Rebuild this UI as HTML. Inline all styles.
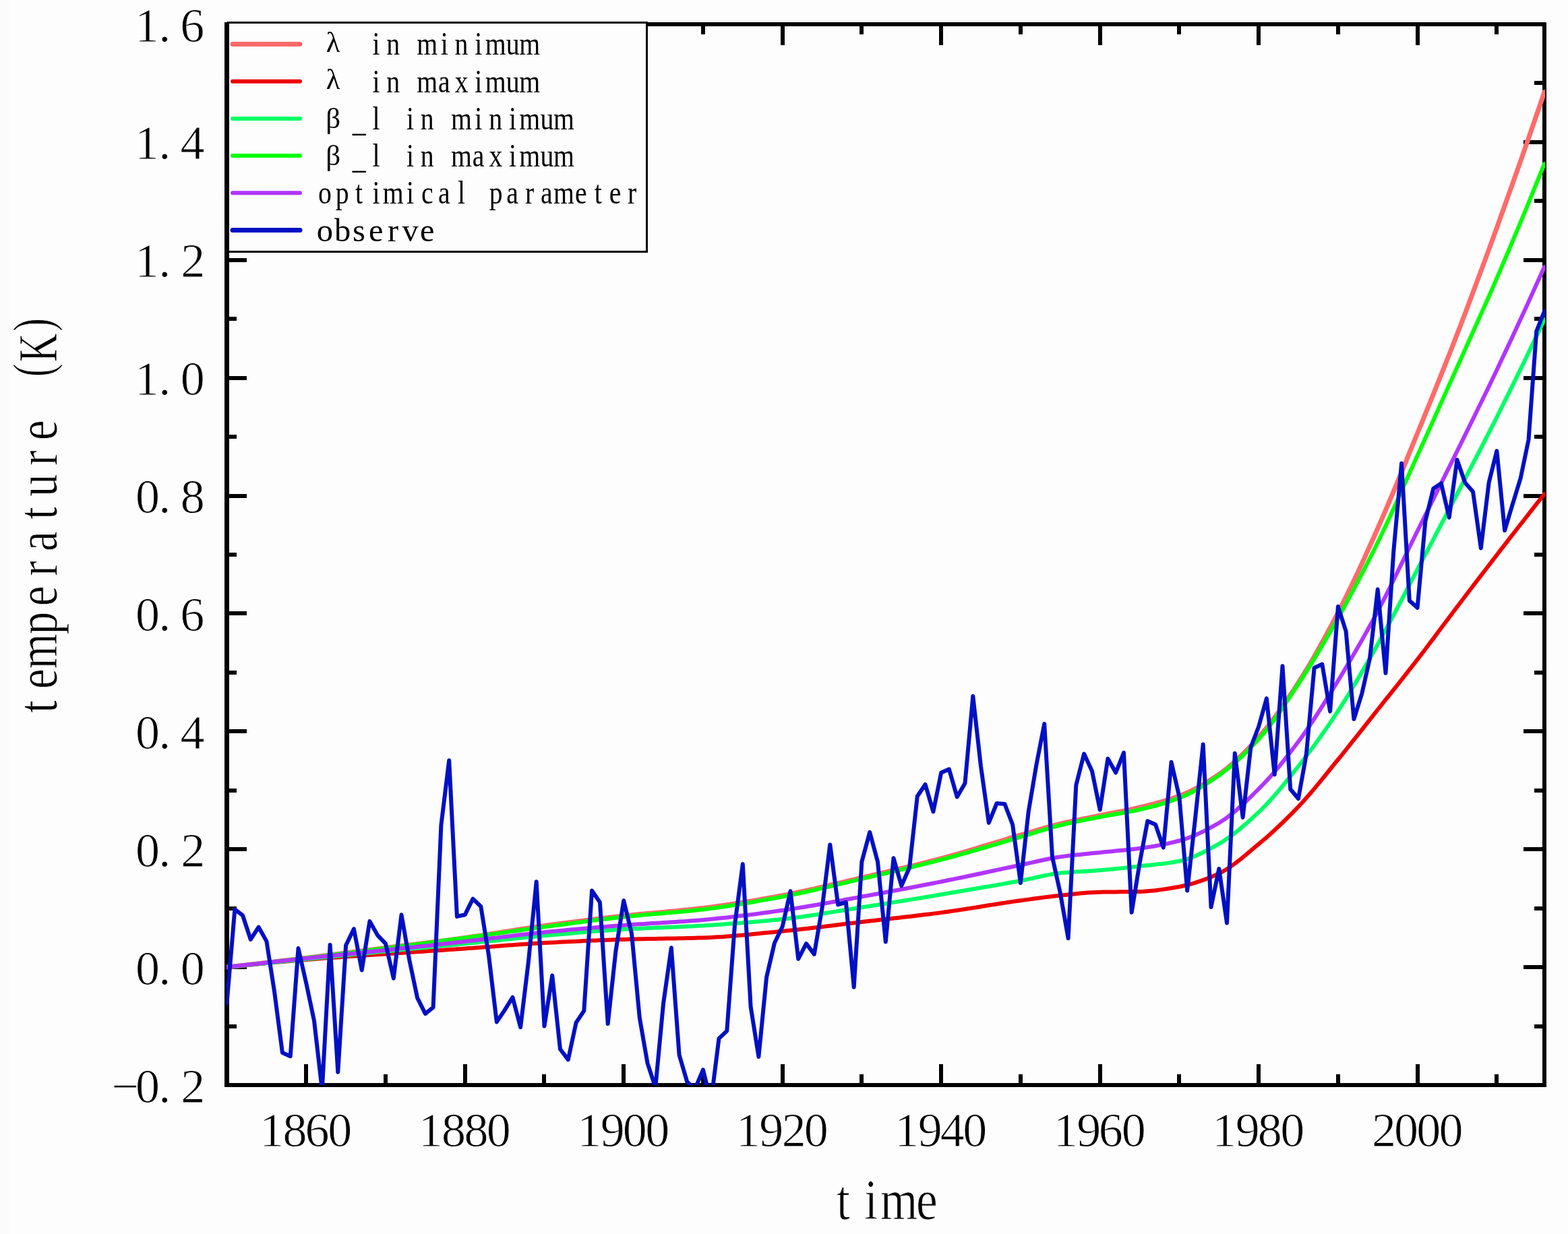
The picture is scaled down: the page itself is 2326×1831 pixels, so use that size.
<!DOCTYPE html>
<html><head><meta charset="utf-8"><title>temperature chart</title>
<style>html,body{margin:0;padding:0;background:#fdfdfd;}body{width:2326px;height:1831px;position:relative;overflow:hidden;}</style>
</head><body>
<svg width="2326" height="1831" viewBox="0 0 2326 1831" style="position:absolute;left:0;top:0">
<defs><clipPath id="pc"><rect x="336" y="36" width="1956" height="1574"/></clipPath></defs>
<rect x="0" y="0" width="2326" height="1831" fill="#fdfdfd"/>
<rect x="0" y="0" width="14" height="1831" fill="#fbfbfb"/>
<g fill="#000"><rect x="333" y="1607" width="1961" height="6"/>
<rect x="333" y="33" width="7" height="1580"/>
<rect x="2288" y="33" width="6" height="1580"/>
<rect x="333" y="33" width="1961" height="6"/>
<rect x="451" y="1579" width="6" height="28"/>
<rect x="451" y="39" width="6" height="28"/>
<rect x="569" y="1594" width="6" height="13"/>
<rect x="569" y="39" width="6" height="12"/>
<rect x="687" y="1579" width="6" height="28"/>
<rect x="687" y="39" width="6" height="28"/>
<rect x="804" y="1594" width="6" height="13"/>
<rect x="804" y="39" width="6" height="12"/>
<rect x="922" y="1579" width="6" height="28"/>
<rect x="922" y="39" width="6" height="28"/>
<rect x="1040" y="1594" width="6" height="13"/>
<rect x="1040" y="39" width="6" height="12"/>
<rect x="1158" y="1579" width="6" height="28"/>
<rect x="1158" y="39" width="6" height="28"/>
<rect x="1275" y="1594" width="6" height="13"/>
<rect x="1275" y="39" width="6" height="12"/>
<rect x="1393" y="1579" width="6" height="28"/>
<rect x="1393" y="39" width="6" height="28"/>
<rect x="1511" y="1594" width="6" height="13"/>
<rect x="1511" y="39" width="6" height="12"/>
<rect x="1629" y="1579" width="6" height="28"/>
<rect x="1629" y="39" width="6" height="28"/>
<rect x="1746" y="1594" width="6" height="13"/>
<rect x="1746" y="39" width="6" height="12"/>
<rect x="1864" y="1579" width="6" height="28"/>
<rect x="1864" y="39" width="6" height="28"/>
<rect x="1982" y="1594" width="6" height="13"/>
<rect x="1982" y="39" width="6" height="12"/>
<rect x="2100" y="1579" width="6" height="28"/>
<rect x="2100" y="39" width="6" height="28"/>
<rect x="2217" y="1594" width="6" height="13"/>
<rect x="2217" y="39" width="6" height="12"/>
<rect x="340" y="1520" width="11" height="6"/>
<rect x="2276" y="1520" width="12" height="6"/>
<rect x="340" y="1432" width="26" height="6"/>
<rect x="2260" y="1432" width="28" height="6"/>
<rect x="340" y="1345" width="11" height="6"/>
<rect x="2276" y="1345" width="12" height="6"/>
<rect x="340" y="1257" width="26" height="6"/>
<rect x="2260" y="1257" width="28" height="6"/>
<rect x="340" y="1170" width="11" height="6"/>
<rect x="2276" y="1170" width="12" height="6"/>
<rect x="340" y="1082" width="26" height="6"/>
<rect x="2260" y="1082" width="28" height="6"/>
<rect x="340" y="995" width="11" height="6"/>
<rect x="2276" y="995" width="12" height="6"/>
<rect x="340" y="907" width="26" height="6"/>
<rect x="2260" y="907" width="28" height="6"/>
<rect x="340" y="820" width="11" height="6"/>
<rect x="2276" y="820" width="12" height="6"/>
<rect x="340" y="733" width="26" height="6"/>
<rect x="2260" y="733" width="28" height="6"/>
<rect x="340" y="645" width="11" height="6"/>
<rect x="2276" y="645" width="12" height="6"/>
<rect x="340" y="558" width="26" height="6"/>
<rect x="2260" y="558" width="28" height="6"/>
<rect x="340" y="470" width="11" height="6"/>
<rect x="2276" y="470" width="12" height="6"/>
<rect x="340" y="383" width="26" height="6"/>
<rect x="2260" y="383" width="28" height="6"/>
<rect x="340" y="295" width="11" height="6"/>
<rect x="2276" y="295" width="12" height="6"/>
<rect x="340" y="208" width="26" height="6"/>
<rect x="2260" y="208" width="28" height="6"/>
<rect x="340" y="120" width="11" height="6"/>
<rect x="2276" y="120" width="12" height="6"/></g>
<g clip-path="url(#pc)" fill="none" stroke-linejoin="round" stroke-linecap="round">
<polyline stroke="#FF6A6A" stroke-width="7" points="336.5,1435.0 342.4,1434.4 348.3,1433.7 354.2,1433.0 360.0,1432.4 365.9,1431.7 371.8,1431.1 377.7,1430.4 383.6,1429.7 389.5,1429.0 395.4,1428.4 401.3,1427.7 407.1,1427.0 413.0,1426.3 418.9,1425.6 424.8,1424.9 430.7,1424.2 436.6,1423.5 442.5,1422.8 448.4,1422.1 454.2,1421.4 460.1,1420.7 466.0,1420.0 471.9,1419.2 477.8,1418.5 483.7,1417.8 489.6,1417.0 495.5,1416.3 501.3,1415.5 507.2,1414.8 513.1,1414.0 519.0,1413.3 524.9,1412.5 530.8,1411.8 536.7,1411.0 542.5,1410.3 548.4,1409.5 554.3,1408.8 560.2,1408.0 566.1,1407.2 572.0,1406.5 577.9,1405.8 583.8,1405.0 589.6,1404.3 595.5,1403.5 601.4,1402.8 607.3,1402.1 613.2,1401.4 619.1,1400.6 625.0,1399.9 630.9,1399.2 636.7,1398.4 642.6,1397.7 648.5,1396.9 654.4,1396.2 660.3,1395.4 666.2,1394.7 672.1,1393.9 677.9,1393.1 683.8,1392.3 689.7,1391.5 695.6,1390.7 701.5,1389.8 707.4,1389.0 713.3,1388.1 719.2,1387.2 725.0,1386.2 730.9,1385.3 736.8,1384.4 742.7,1383.5 748.6,1382.5 754.5,1381.6 760.4,1380.6 766.3,1379.7 772.1,1378.8 778.0,1377.9 783.9,1377.0 789.8,1376.1 795.7,1375.3 801.6,1374.4 807.5,1373.6 813.4,1372.8 819.2,1372.0 825.1,1371.2 831.0,1370.4 836.9,1369.7 842.8,1368.9 848.7,1368.1 854.6,1367.4 860.4,1366.6 866.3,1365.9 872.2,1365.2 878.1,1364.5 884.0,1363.7 889.9,1363.0 895.8,1362.3 901.7,1361.7 907.5,1361.0 913.4,1360.3 919.3,1359.7 925.2,1359.0 931.1,1358.4 937.0,1357.8 942.9,1357.2 948.8,1356.6 954.6,1356.0 960.5,1355.5 966.4,1355.0 972.3,1354.4 978.2,1353.9 984.1,1353.4 990.0,1352.8 995.8,1352.3 1001.7,1351.8 1007.6,1351.2 1013.5,1350.6 1019.4,1350.0 1025.3,1349.4 1031.2,1348.8 1037.1,1348.1 1042.9,1347.4 1048.8,1346.7 1054.7,1345.9 1060.6,1345.1 1066.5,1344.3 1072.4,1343.5 1078.3,1342.6 1084.2,1341.8 1090.0,1340.9 1095.9,1339.9 1101.8,1339.0 1107.7,1338.0 1113.6,1337.1 1119.5,1336.1 1125.4,1335.1 1131.3,1334.0 1137.1,1333.0 1143.0,1331.9 1148.9,1330.9 1154.8,1329.8 1160.7,1328.7 1166.6,1327.6 1172.5,1326.4 1178.3,1325.2 1184.2,1324.0 1190.1,1322.8 1196.0,1321.5 1201.9,1320.2 1207.8,1318.9 1213.7,1317.5 1219.6,1316.2 1225.4,1314.8 1231.3,1313.4 1237.2,1312.0 1243.1,1310.7 1249.0,1309.3 1254.9,1307.9 1260.8,1306.5 1266.7,1305.1 1272.5,1303.7 1278.4,1302.3 1284.3,1300.9 1290.2,1299.6 1296.1,1298.2 1302.0,1296.8 1307.9,1295.5 1313.8,1294.1 1319.6,1292.7 1325.5,1291.3 1331.4,1289.9 1337.3,1288.5 1343.2,1287.1 1349.1,1285.7 1355.0,1284.3 1360.8,1282.8 1366.7,1281.4 1372.6,1279.9 1378.5,1278.4 1384.4,1276.9 1390.3,1275.4 1396.2,1273.8 1402.1,1272.2 1407.9,1270.6 1413.8,1268.9 1419.7,1267.3 1425.6,1265.5 1431.5,1263.8 1437.4,1262.1 1443.3,1260.3 1449.2,1258.5 1455.0,1256.7 1460.9,1254.9 1466.8,1253.1 1472.7,1251.3 1478.6,1249.5 1484.5,1247.8 1490.4,1246.0 1496.2,1244.2 1502.1,1242.4 1508.0,1240.7 1513.9,1239.0 1519.8,1237.3 1525.7,1235.5 1531.6,1233.8 1537.5,1232.0 1543.3,1230.3 1549.2,1228.6 1555.1,1226.9 1561.0,1225.3 1566.9,1223.8 1572.8,1222.3 1578.7,1220.9 1584.6,1219.6 1590.4,1218.3 1596.3,1217.1 1602.2,1215.9 1608.1,1214.7 1614.0,1213.6 1619.9,1212.4 1625.8,1211.2 1631.7,1210.0 1637.5,1208.8 1643.4,1207.6 1649.3,1206.5 1655.2,1205.4 1661.1,1204.2 1667.0,1203.1 1672.9,1201.9 1678.7,1200.7 1684.6,1199.4 1690.5,1198.0 1696.4,1196.6 1702.3,1195.1 1708.2,1193.7 1714.1,1192.1 1720.0,1190.5 1725.8,1188.8 1731.7,1187.0 1737.6,1185.2 1743.5,1183.1 1749.4,1181.0 1755.3,1178.7 1761.2,1176.1 1767.1,1173.4 1772.9,1170.4 1778.8,1167.3 1784.7,1164.0 1790.6,1160.5 1796.5,1156.8 1802.4,1153.0 1808.3,1149.0 1814.1,1144.8 1820.0,1140.2 1825.9,1135.3 1831.8,1130.1 1837.7,1124.6 1843.6,1118.9 1849.5,1113.0 1855.4,1106.8 1861.2,1100.5 1867.1,1094.0 1873.0,1087.2 1878.9,1080.1 1884.8,1072.6 1890.7,1064.8 1896.6,1056.7 1902.5,1048.3 1908.3,1039.8 1914.2,1031.0 1920.1,1022.1 1926.0,1013.0 1931.9,1003.7 1937.8,994.2 1943.7,984.3 1949.6,974.2 1955.4,963.8 1961.3,953.2 1967.2,942.4 1973.1,931.4 1979.0,920.3 1984.9,909.0 1990.8,897.5 1996.6,885.7 2002.5,873.7 2008.4,861.4 2014.3,848.9 2020.2,836.2 2026.1,823.3 2032.0,810.3 2037.9,797.2 2043.7,784.0 2049.6,770.6 2055.5,757.0 2061.4,743.1 2067.3,729.1 2073.2,714.9 2079.1,700.6 2085.0,686.3 2090.8,671.8 2096.7,657.4 2102.6,643.0 2108.5,628.6 2114.4,614.2 2120.3,599.7 2126.2,585.1 2132.0,570.5 2137.9,555.9 2143.8,541.1 2149.7,526.2 2155.6,511.2 2161.5,496.0 2167.4,480.7 2173.3,465.3 2179.1,449.7 2185.0,434.1 2190.9,418.3 2196.8,402.4 2202.7,386.4 2208.6,370.4 2214.5,354.2 2220.4,338.0 2226.2,321.7 2232.1,305.3 2238.0,288.8 2243.9,272.2 2249.8,255.6 2255.7,238.9 2261.6,222.0 2267.5,205.1 2273.3,188.1 2279.2,171.0 2285.1,153.8 2291.0,136.5"/>
<polyline stroke="#EE0000" stroke-width="6" points="336.5,1435.0 342.4,1434.4 348.3,1433.8 354.2,1433.2 360.0,1432.6 365.9,1432.0 371.8,1431.4 377.7,1430.8 383.6,1430.2 389.5,1429.7 395.4,1429.1 401.3,1428.5 407.1,1428.0 413.0,1427.5 418.9,1426.9 424.8,1426.4 430.7,1425.9 436.6,1425.4 442.5,1424.9 448.4,1424.4 454.2,1423.9 460.1,1423.4 466.0,1423.0 471.9,1422.5 477.8,1422.1 483.7,1421.6 489.6,1421.2 495.5,1420.8 501.3,1420.4 507.2,1419.9 513.1,1419.5 519.0,1419.1 524.9,1418.7 530.8,1418.3 536.7,1417.9 542.5,1417.5 548.4,1417.1 554.3,1416.7 560.2,1416.3 566.1,1415.9 572.0,1415.5 577.9,1415.1 583.8,1414.7 589.6,1414.3 595.5,1413.9 601.4,1413.5 607.3,1413.1 613.2,1412.7 619.1,1412.3 625.0,1411.9 630.9,1411.5 636.7,1411.1 642.6,1410.7 648.5,1410.3 654.4,1409.9 660.3,1409.5 666.2,1409.1 672.1,1408.7 677.9,1408.3 683.8,1407.9 689.7,1407.5 695.6,1407.1 701.5,1406.7 707.4,1406.2 713.3,1405.8 719.2,1405.3 725.0,1404.9 730.9,1404.4 736.8,1404.0 742.7,1403.5 748.6,1403.1 754.5,1402.6 760.4,1402.2 766.3,1401.8 772.1,1401.3 778.0,1400.9 783.9,1400.5 789.8,1400.1 795.7,1399.8 801.6,1399.4 807.5,1399.1 813.4,1398.8 819.2,1398.5 825.1,1398.2 831.0,1397.8 836.9,1397.5 842.8,1397.2 848.7,1397.0 854.6,1396.7 860.4,1396.4 866.3,1396.1 872.2,1395.9 878.1,1395.6 884.0,1395.4 889.9,1395.1 895.8,1394.9 901.7,1394.7 907.5,1394.5 913.4,1394.3 919.3,1394.1 925.2,1393.9 931.1,1393.7 937.0,1393.6 942.9,1393.5 948.8,1393.3 954.6,1393.2 960.5,1393.1 966.4,1393.0 972.3,1392.9 978.2,1392.8 984.1,1392.7 990.0,1392.6 995.8,1392.5 1001.7,1392.4 1007.6,1392.3 1013.5,1392.2 1019.4,1392.1 1025.3,1391.9 1031.2,1391.8 1037.1,1391.6 1042.9,1391.4 1048.8,1391.2 1054.7,1390.9 1060.6,1390.6 1066.5,1390.2 1072.4,1389.9 1078.3,1389.4 1084.2,1389.0 1090.0,1388.5 1095.9,1388.0 1101.8,1387.5 1107.7,1386.9 1113.6,1386.4 1119.5,1385.8 1125.4,1385.2 1131.3,1384.6 1137.1,1384.0 1143.0,1383.4 1148.9,1382.9 1154.8,1382.3 1160.7,1381.7 1166.6,1381.1 1172.5,1380.5 1178.3,1379.9 1184.2,1379.3 1190.1,1378.6 1196.0,1377.9 1201.9,1377.3 1207.8,1376.6 1213.7,1375.9 1219.6,1375.2 1225.4,1374.4 1231.3,1373.7 1237.2,1373.0 1243.1,1372.3 1249.0,1371.5 1254.9,1370.8 1260.8,1370.1 1266.7,1369.4 1272.5,1368.7 1278.4,1368.0 1284.3,1367.3 1290.2,1366.6 1296.1,1366.0 1302.0,1365.3 1307.9,1364.6 1313.8,1364.0 1319.6,1363.3 1325.5,1362.6 1331.4,1362.0 1337.3,1361.3 1343.2,1360.6 1349.1,1359.9 1355.0,1359.2 1360.8,1358.5 1366.7,1357.8 1372.6,1357.1 1378.5,1356.4 1384.4,1355.6 1390.3,1354.9 1396.2,1354.1 1402.1,1353.3 1407.9,1352.5 1413.8,1351.6 1419.7,1350.8 1425.6,1349.9 1431.5,1349.0 1437.4,1348.0 1443.3,1347.1 1449.2,1346.2 1455.0,1345.2 1460.9,1344.3 1466.8,1343.3 1472.7,1342.4 1478.6,1341.5 1484.5,1340.5 1490.4,1339.6 1496.2,1338.7 1502.1,1337.9 1508.0,1337.0 1513.9,1336.2 1519.8,1335.4 1525.7,1334.6 1531.6,1333.8 1537.5,1333.0 1543.3,1332.2 1549.2,1331.4 1555.1,1330.7 1561.0,1330.0 1566.9,1329.3 1572.8,1328.7 1578.7,1328.1 1584.6,1327.5 1590.4,1326.8 1596.3,1326.2 1602.2,1325.6 1608.1,1325.1 1614.0,1324.6 1619.9,1324.2 1625.8,1323.9 1631.7,1323.7 1637.5,1323.6 1643.4,1323.5 1649.3,1323.4 1655.2,1323.4 1661.1,1323.3 1667.0,1323.3 1672.9,1323.2 1678.7,1323.1 1684.6,1323.0 1690.5,1322.9 1696.4,1322.7 1702.3,1322.3 1708.2,1321.8 1714.1,1321.2 1720.0,1320.4 1725.8,1319.6 1731.7,1318.7 1737.6,1317.8 1743.5,1316.7 1749.4,1315.7 1755.3,1314.5 1761.2,1313.2 1767.1,1311.6 1772.9,1309.9 1778.8,1307.9 1784.7,1305.8 1790.6,1303.6 1796.5,1301.2 1802.4,1298.7 1808.3,1296.0 1814.1,1293.0 1820.0,1289.6 1825.9,1285.7 1831.8,1281.4 1837.7,1276.9 1843.6,1272.2 1849.5,1267.3 1855.4,1262.3 1861.2,1257.3 1867.1,1252.4 1873.0,1247.5 1878.9,1242.4 1884.8,1237.2 1890.7,1231.8 1896.6,1226.3 1902.5,1220.7 1908.3,1215.0 1914.2,1209.1 1920.1,1203.1 1926.0,1197.0 1931.9,1190.7 1937.8,1184.1 1943.7,1177.3 1949.6,1170.4 1955.4,1163.3 1961.3,1156.1 1967.2,1148.8 1973.1,1141.5 1979.0,1134.2 1984.9,1127.0 1990.8,1119.8 1996.6,1112.5 2002.5,1105.1 2008.4,1097.7 2014.3,1090.3 2020.2,1082.8 2026.1,1075.4 2032.0,1067.9 2037.9,1060.4 2043.7,1053.0 2049.6,1045.6 2055.5,1038.2 2061.4,1030.8 2067.3,1023.4 2073.2,1016.1 2079.1,1008.6 2085.0,1001.2 2090.8,993.7 2096.7,986.2 2102.6,978.6 2108.5,970.9 2114.4,963.2 2120.3,955.4 2126.2,947.6 2132.0,939.7 2137.9,931.8 2143.8,924.0 2149.7,916.1 2155.6,908.3 2161.5,900.5 2167.4,892.7 2173.3,885.0 2179.1,877.3 2185.0,869.5 2190.9,861.8 2196.8,854.1 2202.7,846.5 2208.6,838.8 2214.5,831.1 2220.4,823.5 2226.2,815.9 2232.1,808.3 2238.0,800.7 2243.9,793.1 2249.8,785.5 2255.7,778.0 2261.6,770.5 2267.5,762.9 2273.3,755.4 2279.2,747.9 2285.1,740.5 2291.0,733.0"/>
<polyline stroke="#00FF66" stroke-width="6" points="336.5,1435.0 342.4,1434.4 348.3,1433.8 354.2,1433.2 360.0,1432.6 365.9,1432.0 371.8,1431.4 377.7,1430.8 383.6,1430.2 389.5,1429.6 395.4,1429.0 401.3,1428.4 407.1,1427.8 413.0,1427.2 418.9,1426.6 424.8,1426.0 430.7,1425.5 436.6,1424.9 442.5,1424.3 448.4,1423.7 454.2,1423.1 460.1,1422.5 466.0,1421.9 471.9,1421.3 477.8,1420.8 483.7,1420.2 489.6,1419.6 495.5,1419.0 501.3,1418.4 507.2,1417.8 513.1,1417.3 519.0,1416.7 524.9,1416.1 530.8,1415.5 536.7,1414.9 542.5,1414.4 548.4,1413.8 554.3,1413.2 560.2,1412.6 566.1,1412.1 572.0,1411.5 577.9,1410.9 583.8,1410.4 589.6,1409.8 595.5,1409.2 601.4,1408.7 607.3,1408.1 613.2,1407.5 619.1,1407.0 625.0,1406.4 630.9,1405.9 636.7,1405.3 642.6,1404.7 648.5,1404.2 654.4,1403.6 660.3,1403.1 666.2,1402.5 672.1,1401.9 677.9,1401.4 683.8,1400.8 689.7,1400.2 695.6,1399.6 701.5,1399.0 707.4,1398.4 713.3,1397.8 719.2,1397.2 725.0,1396.6 730.9,1396.0 736.8,1395.4 742.7,1394.7 748.6,1394.1 754.5,1393.5 760.4,1392.9 766.3,1392.3 772.1,1391.7 778.0,1391.1 783.9,1390.5 789.8,1389.9 795.7,1389.4 801.6,1388.8 807.5,1388.3 813.4,1387.8 819.2,1387.2 825.1,1386.7 831.0,1386.2 836.9,1385.7 842.8,1385.2 848.7,1384.7 854.6,1384.1 860.4,1383.6 866.3,1383.2 872.2,1382.7 878.1,1382.2 884.0,1381.7 889.9,1381.3 895.8,1380.9 901.7,1380.4 907.5,1380.0 913.4,1379.6 919.3,1379.3 925.2,1378.9 931.1,1378.6 937.0,1378.2 942.9,1377.9 948.8,1377.7 954.6,1377.4 960.5,1377.1 966.4,1376.9 972.3,1376.6 978.2,1376.4 984.1,1376.2 990.0,1375.9 995.8,1375.7 1001.7,1375.4 1007.6,1375.2 1013.5,1374.9 1019.4,1374.6 1025.3,1374.4 1031.2,1374.1 1037.1,1373.7 1042.9,1373.4 1048.8,1373.0 1054.7,1372.7 1060.6,1372.3 1066.5,1371.9 1072.4,1371.5 1078.3,1371.1 1084.2,1370.6 1090.0,1370.2 1095.9,1369.7 1101.8,1369.3 1107.7,1368.8 1113.6,1368.3 1119.5,1367.8 1125.4,1367.3 1131.3,1366.7 1137.1,1366.2 1143.0,1365.6 1148.9,1365.0 1154.8,1364.4 1160.7,1363.8 1166.6,1363.2 1172.5,1362.5 1178.3,1361.7 1184.2,1361.0 1190.1,1360.2 1196.0,1359.3 1201.9,1358.5 1207.8,1357.6 1213.7,1356.7 1219.6,1355.8 1225.4,1354.8 1231.3,1353.9 1237.2,1352.9 1243.1,1352.0 1249.0,1351.0 1254.9,1350.1 1260.8,1349.1 1266.7,1348.2 1272.5,1347.2 1278.4,1346.3 1284.3,1345.4 1290.2,1344.5 1296.1,1343.5 1302.0,1342.6 1307.9,1341.7 1313.8,1340.8 1319.6,1339.8 1325.5,1338.9 1331.4,1337.9 1337.3,1337.0 1343.2,1336.0 1349.1,1335.1 1355.0,1334.1 1360.8,1333.2 1366.7,1332.2 1372.6,1331.2 1378.5,1330.2 1384.4,1329.3 1390.3,1328.3 1396.2,1327.3 1402.1,1326.3 1407.9,1325.3 1413.8,1324.3 1419.7,1323.3 1425.6,1322.3 1431.5,1321.3 1437.4,1320.3 1443.3,1319.3 1449.2,1318.3 1455.0,1317.3 1460.9,1316.3 1466.8,1315.2 1472.7,1314.2 1478.6,1313.2 1484.5,1312.1 1490.4,1311.1 1496.2,1310.0 1502.1,1309.0 1508.0,1307.9 1513.9,1306.8 1519.8,1305.7 1525.7,1304.4 1531.6,1303.1 1537.5,1301.8 1543.3,1300.5 1549.2,1299.2 1555.1,1298.1 1561.0,1297.0 1566.9,1296.1 1572.8,1295.4 1578.7,1294.8 1584.6,1294.4 1590.4,1293.9 1596.3,1293.6 1602.2,1293.2 1608.1,1292.9 1614.0,1292.5 1619.9,1292.2 1625.8,1291.8 1631.7,1291.3 1637.5,1290.8 1643.4,1290.3 1649.3,1289.7 1655.2,1289.1 1661.1,1288.5 1667.0,1287.9 1672.9,1287.3 1678.7,1286.6 1684.6,1286.0 1690.5,1285.3 1696.4,1284.6 1702.3,1284.0 1708.2,1283.4 1714.1,1282.8 1720.0,1282.1 1725.8,1281.4 1731.7,1280.6 1737.6,1279.8 1743.5,1278.8 1749.4,1277.7 1755.3,1276.3 1761.2,1274.6 1767.1,1272.5 1772.9,1270.2 1778.8,1267.5 1784.7,1264.7 1790.6,1261.7 1796.5,1258.5 1802.4,1255.3 1808.3,1252.0 1814.1,1248.5 1820.0,1244.6 1825.9,1240.5 1831.8,1236.0 1837.7,1231.3 1843.6,1226.4 1849.5,1221.3 1855.4,1216.0 1861.2,1210.6 1867.1,1205.1 1873.0,1199.4 1878.9,1193.3 1884.8,1186.9 1890.7,1180.3 1896.6,1173.4 1902.5,1166.4 1908.3,1159.1 1914.2,1151.8 1920.1,1144.4 1926.0,1137.0 1931.9,1129.5 1937.8,1121.8 1943.7,1114.0 1949.6,1106.0 1955.4,1097.9 1961.3,1089.6 1967.2,1081.2 1973.1,1072.6 1979.0,1063.9 1984.9,1055.0 1990.8,1045.9 1996.6,1036.6 2002.5,1027.0 2008.4,1017.3 2014.3,1007.4 2020.2,997.3 2026.1,987.1 2032.0,976.8 2037.9,966.4 2043.7,956.0 2049.6,945.4 2055.5,934.6 2061.4,923.7 2067.3,912.6 2073.2,901.4 2079.1,890.1 2085.0,878.8 2090.8,867.5 2096.7,856.2 2102.6,845.0 2108.5,833.8 2114.4,822.7 2120.3,811.5 2126.2,800.4 2132.0,789.2 2137.9,778.0 2143.8,766.8 2149.7,755.5 2155.6,744.3 2161.5,733.0 2167.4,721.7 2173.3,710.4 2179.1,699.2 2185.0,687.9 2190.9,676.5 2196.8,665.2 2202.7,653.7 2208.6,642.2 2214.5,630.7 2220.4,619.0 2226.2,607.2 2232.1,595.4 2238.0,583.6 2243.9,571.6 2249.8,559.7 2255.7,547.6 2261.6,535.5 2267.5,523.3 2273.3,511.1 2279.2,498.8 2285.1,486.4 2291.0,474.0"/>
<polyline stroke="#05FF05" stroke-width="6" points="336.5,1435.0 342.4,1434.3 348.3,1433.7 354.2,1433.0 360.0,1432.4 365.9,1431.7 371.8,1431.1 377.7,1430.4 383.6,1429.7 389.5,1429.0 395.4,1428.4 401.3,1427.7 407.1,1427.0 413.0,1426.3 418.9,1425.7 424.8,1425.0 430.7,1424.3 436.6,1423.6 442.5,1422.9 448.4,1422.2 454.2,1421.5 460.1,1420.8 466.0,1420.1 471.9,1419.4 477.8,1418.7 483.7,1418.0 489.6,1417.3 495.5,1416.5 501.3,1415.8 507.2,1415.1 513.1,1414.4 519.0,1413.6 524.9,1412.9 530.8,1412.2 536.7,1411.4 542.5,1410.7 548.4,1410.0 554.3,1409.2 560.2,1408.5 566.1,1407.7 572.0,1407.0 577.9,1406.3 583.8,1405.5 589.6,1404.7 595.5,1404.0 601.4,1403.2 607.3,1402.5 613.2,1401.7 619.1,1400.9 625.0,1400.2 630.9,1399.4 636.7,1398.6 642.6,1397.9 648.5,1397.1 654.4,1396.3 660.3,1395.5 666.2,1394.7 672.1,1394.0 677.9,1393.2 683.8,1392.4 689.7,1391.6 695.6,1390.8 701.5,1390.0 707.4,1389.2 713.3,1388.4 719.2,1387.6 725.0,1386.8 730.9,1385.9 736.8,1385.1 742.7,1384.3 748.6,1383.5 754.5,1382.6 760.4,1381.8 766.3,1381.0 772.1,1380.2 778.0,1379.4 783.9,1378.6 789.8,1377.8 795.7,1377.0 801.6,1376.2 807.5,1375.4 813.4,1374.6 819.2,1373.8 825.1,1373.1 831.0,1372.3 836.9,1371.5 842.8,1370.7 848.7,1369.9 854.6,1369.1 860.4,1368.4 866.3,1367.6 872.2,1366.8 878.1,1366.1 884.0,1365.3 889.9,1364.6 895.8,1363.9 901.7,1363.2 907.5,1362.5 913.4,1361.8 919.3,1361.1 925.2,1360.5 931.1,1359.9 937.0,1359.3 942.9,1358.7 948.8,1358.2 954.6,1357.6 960.5,1357.1 966.4,1356.6 972.3,1356.1 978.2,1355.6 984.1,1355.1 990.0,1354.6 995.8,1354.1 1001.7,1353.6 1007.6,1353.1 1013.5,1352.5 1019.4,1351.9 1025.3,1351.3 1031.2,1350.7 1037.1,1350.1 1042.9,1349.4 1048.8,1348.7 1054.7,1347.9 1060.6,1347.2 1066.5,1346.4 1072.4,1345.5 1078.3,1344.7 1084.2,1343.8 1090.0,1342.9 1095.9,1341.9 1101.8,1341.0 1107.7,1340.0 1113.6,1339.0 1119.5,1338.0 1125.4,1336.9 1131.3,1335.9 1137.1,1334.8 1143.0,1333.8 1148.9,1332.7 1154.8,1331.6 1160.7,1330.5 1166.6,1329.4 1172.5,1328.2 1178.3,1327.0 1184.2,1325.8 1190.1,1324.5 1196.0,1323.3 1201.9,1322.0 1207.8,1320.6 1213.7,1319.3 1219.6,1317.9 1225.4,1316.5 1231.3,1315.2 1237.2,1313.8 1243.1,1312.4 1249.0,1311.0 1254.9,1309.6 1260.8,1308.2 1266.7,1306.8 1272.5,1305.4 1278.4,1304.0 1284.3,1302.6 1290.2,1301.3 1296.1,1299.9 1302.0,1298.5 1307.9,1297.2 1313.8,1295.8 1319.6,1294.4 1325.5,1293.1 1331.4,1291.7 1337.3,1290.3 1343.2,1288.9 1349.1,1287.5 1355.0,1286.0 1360.8,1284.6 1366.7,1283.2 1372.6,1281.7 1378.5,1280.2 1384.4,1278.7 1390.3,1277.2 1396.2,1275.7 1402.1,1274.1 1407.9,1272.6 1413.8,1271.0 1419.7,1269.3 1425.6,1267.7 1431.5,1266.0 1437.4,1264.4 1443.3,1262.7 1449.2,1261.0 1455.0,1259.2 1460.9,1257.5 1466.8,1255.8 1472.7,1254.0 1478.6,1252.3 1484.5,1250.6 1490.4,1248.8 1496.2,1247.1 1502.1,1245.4 1508.0,1243.6 1513.9,1241.9 1519.8,1240.2 1525.7,1238.4 1531.6,1236.5 1537.5,1234.7 1543.3,1232.9 1549.2,1231.1 1555.1,1229.3 1561.0,1227.6 1566.9,1226.0 1572.8,1224.5 1578.7,1223.1 1584.6,1221.7 1590.4,1220.5 1596.3,1219.2 1602.2,1218.0 1608.1,1216.8 1614.0,1215.6 1619.9,1214.5 1625.8,1213.4 1631.7,1212.2 1637.5,1211.1 1643.4,1210.0 1649.3,1209.0 1655.2,1208.0 1661.1,1207.0 1667.0,1206.0 1672.9,1204.9 1678.7,1203.8 1684.6,1202.6 1690.5,1201.3 1696.4,1199.9 1702.3,1198.5 1708.2,1197.0 1714.1,1195.5 1720.0,1193.8 1725.8,1192.1 1731.7,1190.2 1737.6,1188.3 1743.5,1186.2 1749.4,1184.0 1755.3,1181.6 1761.2,1178.9 1767.1,1176.0 1772.9,1172.9 1778.8,1169.6 1784.7,1166.0 1790.6,1162.4 1796.5,1158.5 1802.4,1154.6 1808.3,1150.5 1814.1,1146.2 1820.0,1141.7 1825.9,1136.9 1831.8,1131.8 1837.7,1126.5 1843.6,1121.0 1849.5,1115.3 1855.4,1109.3 1861.2,1103.1 1867.1,1096.7 1873.0,1090.0 1878.9,1082.8 1884.8,1075.1 1890.7,1067.2 1896.6,1058.9 1902.5,1050.4 1908.3,1041.7 1914.2,1032.8 1920.1,1023.9 1926.0,1015.0 1931.9,1006.0 1937.8,996.7 1943.7,987.3 1949.6,977.7 1955.4,967.9 1961.3,958.0 1967.2,947.9 1973.1,937.7 1979.0,927.4 1984.9,917.0 1990.8,906.5 1996.6,895.8 2002.5,885.0 2008.4,874.0 2014.3,862.9 2020.2,851.7 2026.1,840.2 2032.0,828.7 2037.9,816.9 2043.7,805.0 2049.6,792.8 2055.5,780.4 2061.4,767.7 2067.3,754.8 2073.2,741.8 2079.1,728.6 2085.0,715.4 2090.8,702.2 2096.7,689.1 2102.6,676.0 2108.5,663.0 2114.4,649.9 2120.3,636.9 2126.2,623.8 2132.0,610.7 2137.9,597.6 2143.8,584.4 2149.7,571.3 2155.6,558.1 2161.5,545.0 2167.4,531.9 2173.3,518.8 2179.1,505.8 2185.0,492.7 2190.9,479.6 2196.8,466.5 2202.7,453.3 2208.6,440.0 2214.5,426.6 2220.4,413.0 2226.2,399.3 2232.1,385.5 2238.0,371.7 2243.9,357.7 2249.8,343.7 2255.7,329.6 2261.6,315.4 2267.5,301.1 2273.3,286.7 2279.2,272.2 2285.1,257.6 2291.0,243.0"/>
<polyline stroke="#B035FF" stroke-width="6" points="336.5,1435.0 342.4,1434.3 348.3,1433.7 354.2,1433.0 360.0,1432.3 365.9,1431.7 371.8,1431.0 377.7,1430.4 383.6,1429.7 389.5,1429.0 395.4,1428.4 401.3,1427.7 407.1,1427.1 413.0,1426.5 418.9,1425.8 424.8,1425.2 430.7,1424.5 436.6,1423.9 442.5,1423.3 448.4,1422.6 454.2,1422.0 460.1,1421.4 466.0,1420.8 471.9,1420.1 477.8,1419.5 483.7,1418.9 489.6,1418.3 495.5,1417.7 501.3,1417.1 507.2,1416.5 513.1,1415.9 519.0,1415.3 524.9,1414.7 530.8,1414.1 536.7,1413.5 542.5,1412.9 548.4,1412.3 554.3,1411.7 560.2,1411.0 566.1,1410.4 572.0,1409.8 577.9,1409.2 583.8,1408.5 589.6,1407.9 595.5,1407.3 601.4,1406.7 607.3,1406.0 613.2,1405.4 619.1,1404.8 625.0,1404.1 630.9,1403.5 636.7,1402.9 642.6,1402.2 648.5,1401.6 654.4,1400.9 660.3,1400.3 666.2,1399.6 672.1,1399.0 677.9,1398.3 683.8,1397.7 689.7,1397.0 695.6,1396.3 701.5,1395.6 707.4,1394.9 713.3,1394.2 719.2,1393.5 725.0,1392.8 730.9,1392.1 736.8,1391.4 742.7,1390.6 748.6,1389.9 754.5,1389.2 760.4,1388.5 766.3,1387.8 772.1,1387.1 778.0,1386.4 783.9,1385.7 789.8,1385.1 795.7,1384.4 801.6,1383.8 807.5,1383.2 813.4,1382.6 819.2,1382.0 825.1,1381.5 831.0,1380.9 836.9,1380.4 842.8,1379.8 848.7,1379.3 854.6,1378.7 860.4,1378.2 866.3,1377.7 872.2,1377.2 878.1,1376.7 884.0,1376.2 889.9,1375.7 895.8,1375.2 901.7,1374.7 907.5,1374.3 913.4,1373.8 919.3,1373.4 925.2,1372.9 931.1,1372.5 937.0,1372.0 942.9,1371.6 948.8,1371.2 954.6,1370.9 960.5,1370.5 966.4,1370.1 972.3,1369.8 978.2,1369.4 984.1,1369.1 990.0,1368.7 995.8,1368.3 1001.7,1368.0 1007.6,1367.6 1013.5,1367.2 1019.4,1366.8 1025.3,1366.3 1031.2,1365.9 1037.1,1365.4 1042.9,1364.9 1048.8,1364.4 1054.7,1363.8 1060.6,1363.2 1066.5,1362.6 1072.4,1362.0 1078.3,1361.4 1084.2,1360.7 1090.0,1360.0 1095.9,1359.3 1101.8,1358.6 1107.7,1357.9 1113.6,1357.1 1119.5,1356.4 1125.4,1355.6 1131.3,1354.8 1137.1,1354.0 1143.0,1353.2 1148.9,1352.4 1154.8,1351.5 1160.7,1350.7 1166.6,1349.9 1172.5,1349.0 1178.3,1348.1 1184.2,1347.1 1190.1,1346.2 1196.0,1345.2 1201.9,1344.2 1207.8,1343.2 1213.7,1342.2 1219.6,1341.2 1225.4,1340.1 1231.3,1339.1 1237.2,1338.0 1243.1,1336.9 1249.0,1335.9 1254.9,1334.8 1260.8,1333.7 1266.7,1332.6 1272.5,1331.6 1278.4,1330.5 1284.3,1329.4 1290.2,1328.4 1296.1,1327.3 1302.0,1326.2 1307.9,1325.1 1313.8,1324.0 1319.6,1322.9 1325.5,1321.8 1331.4,1320.7 1337.3,1319.6 1343.2,1318.5 1349.1,1317.4 1355.0,1316.3 1360.8,1315.1 1366.7,1314.0 1372.6,1312.8 1378.5,1311.7 1384.4,1310.5 1390.3,1309.4 1396.2,1308.2 1402.1,1307.0 1407.9,1305.8 1413.8,1304.6 1419.7,1303.4 1425.6,1302.2 1431.5,1301.0 1437.4,1299.7 1443.3,1298.5 1449.2,1297.2 1455.0,1296.0 1460.9,1294.7 1466.8,1293.5 1472.7,1292.2 1478.6,1290.9 1484.5,1289.7 1490.4,1288.4 1496.2,1287.2 1502.1,1286.0 1508.0,1284.7 1513.9,1283.5 1519.8,1282.2 1525.7,1280.9 1531.6,1279.6 1537.5,1278.3 1543.3,1277.0 1549.2,1275.7 1555.1,1274.5 1561.0,1273.4 1566.9,1272.3 1572.8,1271.4 1578.7,1270.6 1584.6,1269.8 1590.4,1269.1 1596.3,1268.5 1602.2,1267.9 1608.1,1267.3 1614.0,1266.7 1619.9,1266.1 1625.8,1265.5 1631.7,1264.9 1637.5,1264.3 1643.4,1263.7 1649.3,1263.2 1655.2,1262.6 1661.1,1262.1 1667.0,1261.5 1672.9,1260.9 1678.7,1260.2 1684.6,1259.6 1690.5,1258.8 1696.4,1258.0 1702.3,1257.1 1708.2,1256.2 1714.1,1255.2 1720.0,1254.1 1725.8,1253.0 1731.7,1251.8 1737.6,1250.4 1743.5,1249.0 1749.4,1247.5 1755.3,1245.8 1761.2,1243.8 1767.1,1241.6 1772.9,1239.2 1778.8,1236.6 1784.7,1233.8 1790.6,1230.8 1796.5,1227.7 1802.4,1224.4 1808.3,1221.0 1814.1,1217.3 1820.0,1213.2 1825.9,1208.7 1831.8,1203.9 1837.7,1198.8 1843.6,1193.5 1849.5,1188.0 1855.4,1182.3 1861.2,1176.5 1867.1,1170.7 1873.0,1164.7 1878.9,1158.4 1884.8,1151.9 1890.7,1145.1 1896.6,1138.2 1902.5,1131.0 1908.3,1123.6 1914.2,1116.0 1920.1,1108.3 1926.0,1100.5 1931.9,1092.4 1937.8,1084.1 1943.7,1075.4 1949.6,1066.5 1955.4,1057.4 1961.3,1048.1 1967.2,1038.7 1973.1,1029.2 1979.0,1019.6 1984.9,1010.0 1990.8,1000.3 1996.6,990.5 2002.5,980.5 2008.4,970.5 2014.3,960.3 2020.2,949.9 2026.1,939.4 2032.0,928.8 2037.9,918.0 2043.7,907.0 2049.6,895.8 2055.5,884.3 2061.4,872.5 2067.3,860.6 2073.2,848.5 2079.1,836.4 2085.0,824.2 2090.8,812.0 2096.7,800.0 2102.6,788.0 2108.5,776.1 2114.4,764.3 2120.3,752.5 2126.2,740.7 2132.0,728.8 2137.9,717.0 2143.8,705.2 2149.7,693.3 2155.6,681.4 2161.5,669.5 2167.4,657.6 2173.3,645.6 2179.1,633.7 2185.0,621.8 2190.9,609.8 2196.8,597.8 2202.7,585.7 2208.6,573.6 2214.5,561.3 2220.4,549.0 2226.2,536.6 2232.1,524.1 2238.0,511.6 2243.9,499.0 2249.8,486.3 2255.7,473.6 2261.6,460.8 2267.5,448.0 2273.3,435.1 2279.2,422.1 2285.1,409.1 2291.0,396.0"/>
<polyline stroke="#0010C3" stroke-width="6" points="336.5,1488.5 348.3,1349.4 360.0,1358.2 371.8,1394.0 383.6,1375.6 395.4,1396.6 407.1,1471.8 418.9,1561.9 430.7,1567.2 442.5,1407.1 454.2,1458.7 466.0,1514.7 477.8,1617.0 489.6,1401.9 501.3,1590.8 513.1,1402.8 524.9,1378.3 536.7,1439.5 548.4,1366.9 560.2,1387.9 572.0,1400.1 583.8,1451.7 595.5,1357.3 607.3,1424.6 619.1,1480.6 630.9,1504.2 642.6,1494.6 654.4,1224.4 666.2,1128.2 677.9,1359.9 689.7,1357.3 701.5,1333.7 713.3,1345.0 725.0,1417.6 736.8,1516.4 748.6,1498.9 760.4,1479.7 772.1,1524.3 783.9,1427.2 795.7,1308.3 807.5,1522.6 819.2,1447.4 831.0,1556.7 842.8,1572.4 854.6,1517.3 866.3,1499.8 878.1,1321.4 889.9,1338.9 901.7,1519.1 913.4,1411.5 925.2,1336.3 937.0,1385.3 948.8,1510.3 960.5,1577.6 972.3,1613.5 984.1,1488.5 995.8,1406.3 1007.6,1565.4 1019.4,1605.6 1031.2,1615.2 1042.9,1587.3 1054.7,1634.5 1066.5,1540.9 1078.3,1529.6 1090.0,1372.2 1101.8,1282.1 1113.6,1493.7 1125.4,1568.0 1137.1,1450.0 1148.9,1399.3 1160.7,1374.8 1172.5,1322.3 1184.2,1422.9 1196.0,1400.1 1207.8,1415.9 1219.6,1346.8 1231.3,1253.2 1243.1,1342.4 1254.9,1338.9 1266.7,1464.8 1278.4,1278.6 1290.2,1234.9 1302.0,1278.6 1313.8,1397.5 1325.5,1273.3 1337.3,1314.4 1349.1,1287.3 1360.8,1181.5 1372.6,1164.0 1384.4,1204.3 1396.2,1146.5 1407.9,1141.3 1419.7,1182.4 1431.5,1162.3 1443.3,1032.9 1455.0,1136.9 1466.8,1220.9 1478.6,1192.0 1490.4,1192.9 1502.1,1223.5 1513.9,1310.1 1525.7,1204.3 1537.5,1134.3 1549.2,1074.0 1561.0,1271.6 1572.8,1324.9 1584.6,1392.3 1596.3,1164.9 1608.1,1118.6 1619.9,1143.9 1631.7,1201.6 1643.4,1125.6 1655.2,1146.5 1667.0,1116.8 1678.7,1353.8 1690.5,1281.2 1702.3,1218.2 1714.1,1223.5 1725.8,1257.6 1737.6,1130.8 1749.4,1182.4 1761.2,1321.4 1772.9,1215.6 1784.7,1104.6 1796.5,1345.9 1808.3,1289.1 1820.0,1369.5 1831.8,1117.7 1843.6,1213.0 1855.4,1108.9 1867.1,1078.3 1878.9,1036.4 1890.7,1149.2 1902.5,988.3 1914.2,1171.0 1926.0,1185.0 1937.8,1119.4 1949.6,990.9 1961.3,985.6 1973.1,1055.6 1984.9,900.0 1996.6,936.7 2008.4,1067.0 2020.2,1029.4 2032.0,976.9 2043.7,874.6 2055.5,998.8 2067.3,817.8 2079.1,687.5 2090.8,891.2 2102.6,901.7 2114.4,773.2 2126.2,725.1 2137.9,717.2 2149.7,767.9 2161.5,682.2 2173.3,716.3 2185.0,729.4 2196.8,813.4 2208.6,716.3 2220.4,669.1 2232.1,787.1 2243.9,747.8 2255.7,709.3 2267.5,652.5 2279.2,491.6 2291.0,461.9"/>
</g>
<rect x="338.5" y="33.5" width="621" height="340" fill="#fdfdfd" stroke="#000" stroke-width="3"/>
<rect x="333" y="33" width="7" height="343" fill="#000"/>
<line x1="345" y1="65.5" x2="445" y2="65.5" stroke="#FF6A6A" stroke-width="7" stroke-linecap="round"/>
<line x1="345" y1="120.7" x2="445" y2="120.7" stroke="#EE0000" stroke-width="6" stroke-linecap="round"/>
<line x1="345" y1="175.9" x2="445" y2="175.9" stroke="#00FF66" stroke-width="6" stroke-linecap="round"/>
<line x1="345" y1="231.1" x2="445" y2="231.1" stroke="#05FF05" stroke-width="6" stroke-linecap="round"/>
<line x1="345" y1="286.3" x2="445" y2="286.3" stroke="#B035FF" stroke-width="6" stroke-linecap="round"/>
<line x1="345" y1="341.5" x2="445" y2="341.5" stroke="#0010C3" stroke-width="7" stroke-linecap="round"/>
<g font-family='"Liberation Serif", "Noto Serif CJK SC", serif' fill="#000" stroke="#fdfdfd"><text x="483.75" y="77.00" font-size="43" stroke="none">λ</text>
<text transform="scale(0.820,1)" x="673.65 699.01 736.15 754.11 797.21 822.57 858.99 877.67 915.52 939.45" y="81.50" font-size="48.5" stroke="none">in minimum</text>
<text x="483.75" y="132.20" font-size="43" stroke="none">λ</text>
<text transform="scale(0.820,1)" x="673.65 699.01 736.15 754.11 792.71 822.84 858.99 877.67 915.52 939.45" y="136.70" font-size="48.5" stroke="none">in maximum</text>
<text x="483.22" y="189.90" font-size="43" stroke="none">β</text>
<text transform="scale(0.820,1)" x="637.42 673.70 705.26 735.43 760.79 797.93 815.89 858.99 884.35 920.77 939.45 977.31 1001.23" y="191.90" dy="3 -3" font-size="48.5" stroke="none">_l in minimum</text>
<text x="483.22" y="245.10" font-size="43" stroke="none">β</text>
<text transform="scale(0.820,1)" x="637.42 673.70 705.26 735.43 760.79 797.93 815.89 854.49 884.62 920.77 939.45 977.31 1001.23" y="247.10" dy="3 -3" font-size="48.5" stroke="none">_l in maximum</text>
<text transform="scale(0.820,1)" x="575.64 607.08 642.71 673.65 692.33 735.43 762.16 792.71 828.15 859.71 885.10 916.27 950.10 978.05 1001.23 1040.25 1075.17 1102.03 1135.44" y="302.30" font-size="48.5" stroke="none">optimical parameter</text>
<text x="469.84 496.09 523.07 547.09 574.94 596.49 623.08" y="357.50" font-size="48.5" stroke="none">observe</text>
<text x="165.41 201.07 235.20 268.14" y="1635.60" font-size="72" stroke-width="0.9">−0.2</text>
<text x="201.07 235.20 267.73" y="1460.71" font-size="72" stroke-width="0.9">0.0</text>
<text x="201.07 235.20 268.14" y="1285.82" font-size="72" stroke-width="0.9">0.2</text>
<text x="201.07 235.20 267.59" y="1110.93" font-size="72" stroke-width="0.9">0.4</text>
<text x="201.07 235.20 267.26" y="936.04" font-size="72" stroke-width="0.9">0.6</text>
<text x="201.07 235.20 267.73" y="761.16" font-size="72" stroke-width="0.9">0.8</text>
<text x="200.07 235.20 267.73" y="586.27" font-size="72" stroke-width="0.9">1.0</text>
<text x="200.07 235.20 268.14" y="411.38" font-size="72" stroke-width="0.9">1.2</text>
<text x="200.07 235.20 267.59" y="236.49" font-size="72" stroke-width="0.9">1.4</text>
<text x="200.07 235.20 267.26" y="61.60" font-size="72" stroke-width="0.9">1.6</text>
<text x="385.24 419.58 452.43 486.24" y="1701.00" font-size="72" stroke-width="0.9">1860</text>
<text x="620.73 655.06 688.39 721.72" y="1701.00" font-size="72" stroke-width="0.9">1880</text>
<text x="856.21 890.86 923.87 957.20" y="1701.00" font-size="72" stroke-width="0.9">1900</text>
<text x="1091.69 1126.34 1159.76 1192.68" y="1701.00" font-size="72" stroke-width="0.9">1920</text>
<text x="1327.17 1361.82 1394.69 1428.16" y="1701.00" font-size="72" stroke-width="0.9">1940</text>
<text x="1562.65 1597.30 1629.84 1663.65" y="1701.00" font-size="72" stroke-width="0.9">1960</text>
<text x="1798.14 1832.78 1865.80 1899.13" y="1701.00" font-size="72" stroke-width="0.9">1980</text>
<text x="2035.02 2067.95 2101.28 2134.61" y="1701.00" font-size="72" stroke-width="0.9">2000</text>
<text transform="scale(0.850,1)" x="1459.93 1508.64 1536.12 1598.81" y="1809.00" font-size="84" stroke-width="0.9">time</text>
<g transform="translate(84,0) rotate(-90)"><text transform="scale(0.800,1)" x="-1322.21 -1277.95 -1240.77 -1176.66 -1124.20 -1068.58 -1022.42 -963.46 -921.21 -863.58 -816.70" y="0.00" font-size="84" stroke-width="0.9">temperature</text><text transform="scale(0.720,1)" x="-776.63 -746.06 -683.03" y="0.00" dy="-8 8 -8" font-size="82" stroke-width="0.9">(K)</text></g></g>
</svg>
</body></html>
